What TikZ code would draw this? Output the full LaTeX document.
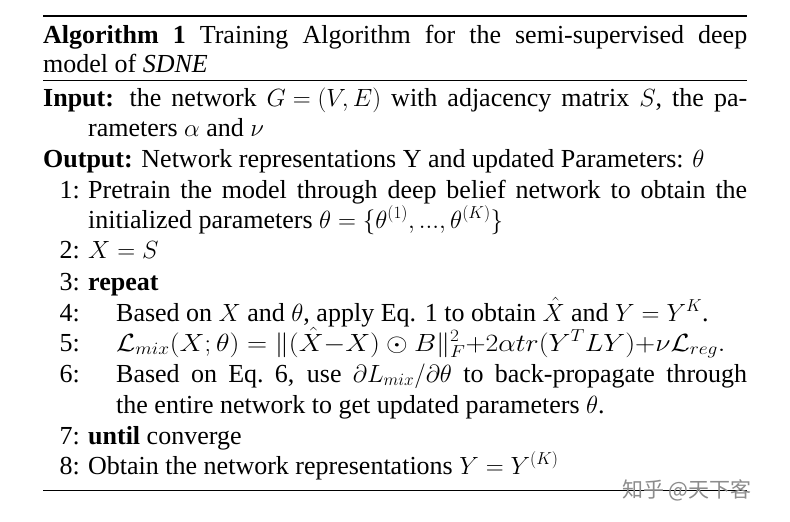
\documentclass[tikz,border=0pt]{standalone}
\usepackage{fontspec}
\usepackage{amsmath,amssymb,graphicx}
\setmainfont{Liberation Serif}
\newfontfamily\cjk{Noto Sans CJK SC}
\begin{document}
\begin{tikzpicture}[x=1pt,y=-1pt,
  ln/.style={anchor=base west,inner sep=0pt,font=\fontsize{26}{30}\selectfont},
  num/.style={anchor=base east,inner sep=0pt,font=\fontsize{26}{30}\selectfont}]
\useasboundingbox (0,0) rectangle (790,522);
\fill[white] (0,0) rectangle (790,522);
\coordinate (r1a) at (43,16); \coordinate (r1b) at (747,16);
\coordinate (r2a) at (43,80); \coordinate (r2b) at (747,80);
\coordinate (r3a) at (43,490); \coordinate (r3b) at (747,490);
\draw[line width=1.6pt] (r1a) -- (r1b);
\draw[line width=0.8pt] (r2a) -- (r2b);
\draw[line width=0.8pt] (r3a) -- (r3b);
\node[ln] (t1) at (43,43) {\makebox[704pt][s]{\textbf{Algorithm 1} Training Algorithm for the semi-supervised deep}};
\node[ln] (t2) at (43,72) {model of \textit{SDNE}};
\node[ln] (in1) at (43,106) {\makebox[704pt][s]{\textbf{Input:} the network \mbox{$G=(V,E)$} with adjacency matrix \mbox{$S$,} the pa-}};
\node[ln] (in2) at (88,136) {rameters $\alpha$ and $\nu$};
\node[ln] (out) at (43,167) {\textbf{Output:} Network representations Y and updated Parameters: $\theta$};
\node[num] (n1) at (80,198) {1:};
\node[ln] (s1a) at (88,198) {\makebox[659pt][s]{Pretrain the model through deep belief network to obtain the}};
\node[ln] (s1b) at (88,228) {initialized parameters $\theta=\{\theta^{(1)},...,\theta^{(K)}\}$};
\node[num] (n2) at (80,258) {2:};
\node[ln] (s2) at (88,258) {$X=S$};
\node[num] (n3) at (80,290) {3:};
\node[ln] (s3) at (88,290) {\textbf{repeat}};
\node[num] (n4) at (80,321) {4:};
\node[ln] (s4) at (116,321) {Based on $X$ and $\theta$, apply Eq. 1 to obtain $\hat{X}$ and $Y=Y^K$.};
\node[num] (n5) at (80,351) {5:};
\node[ln] (s5) at (116,351) {\scalebox{1.12}[1]{$\mathcal{L}_{mix}(X;\theta)=\|(\hat{X}{-}X)\odot B\|_F^2{+}2\alpha tr(Y^TLY){+}\nu\mathcal{L}_{reg}.$}};
\node[num] (n6) at (80,382) {6:};
\node[ln] (s6a) at (116,382) {\makebox[631pt][s]{Based on Eq.~6, use \mbox{$\partial L_{mix}/\partial\theta$} to back-propagate through}};
\node[ln] (s6b) at (116,413) {the entire network to get updated parameters $\theta$.};
\node[num] (n7) at (80,444) {7:};
\node[ln] (s7) at (88,444) {\textbf{until} converge};
\node[num] (n8) at (80,474) {8:};
\node[ln] (s8) at (88,474) {Obtain the network representations $Y=Y^{(K)}$};
\node[anchor=west,inner sep=0pt,text=black!45,font=\cjk\fontsize{21}{24}\selectfont] (wm) at (622,490) {知乎 @天下客};
\end{tikzpicture}
\end{document}
